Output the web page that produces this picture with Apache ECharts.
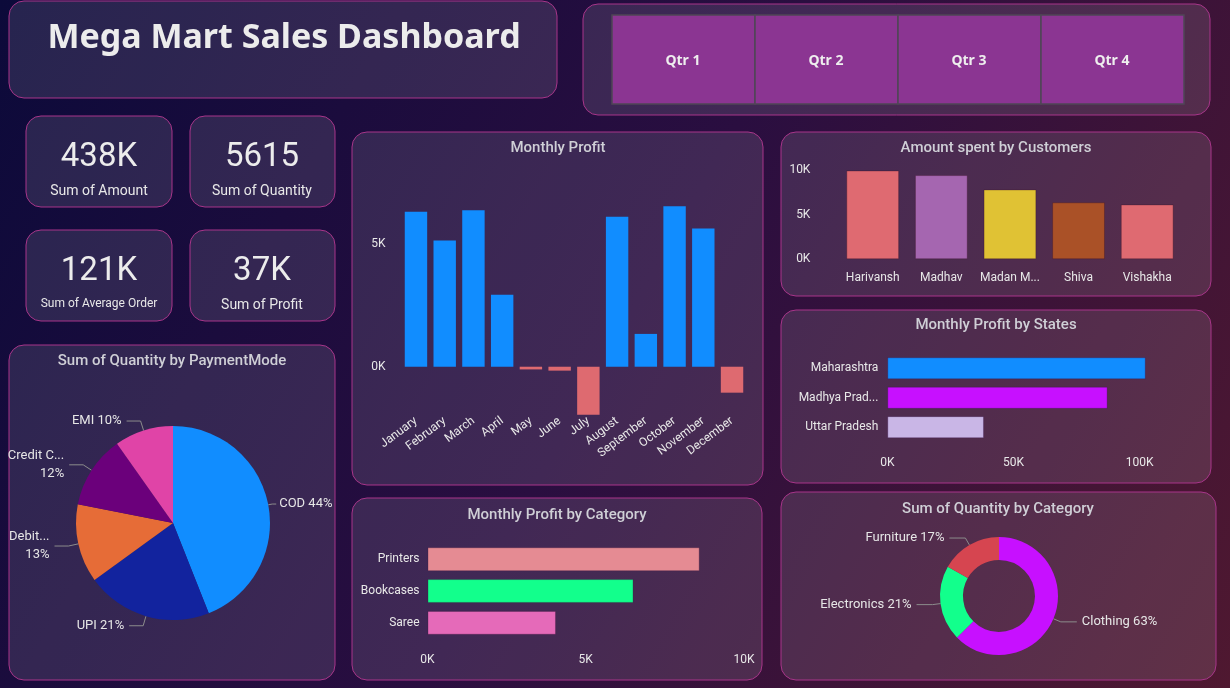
<!DOCTYPE html>
<html><head><meta charset="utf-8">
<script src="https://cdn.jsdelivr.net/npm/echarts@6/dist/echarts.min.js"></script>
<style>html,body{margin:0;padding:0;background:#1a0b3a;overflow:hidden}#c{width:1230px;height:688px;}</style>
</head><body><div id="c"></div>
<script>
// ---- data ----
const dashboardTitle = 'Mega Mart Sales Dashboard';
const quarters = ['Qtr 1', 'Qtr 2', 'Qtr 3', 'Qtr 4'];
const kpiValues = ['438K', '5615', '121K', '37K'];
const kpiLabels = ['Sum of Amount', 'Sum of Quantity', 'Sum of Average Order', 'Sum of Profit'];

const months = ['January','February','March','April','May','June','July','August','September','October','November','December'];
const monthlyProfit = [6330, 5150, 6390, 2940, -110, -160, -1960, 6120, 1340, 6550, 5640, -1060];

const customers = ['Harivansh', 'Madhav', 'Madan Mohan', 'Shiva', 'Vishakha'];
const customerAmount = [9950, 9430, 7830, 6380, 6150];

const states = ['Maharashtra', 'Madhya Pradesh', 'Uttar Pradesh'];
const stateProfit = [102400, 87300, 38300];

const profitCategories = ['Printers', 'Bookcases', 'Saree'];
const categoryProfit = [8600, 6510, 4060];

const paymentModes = ['COD', 'UPI', 'Debit Card', 'Credit Card', 'EMI'];
const paymentLabels = ['COD', 'UPI', 'Debit...', 'Credit C...', 'EMI'];
const paymentQty = [2470, 1180, 735, 680, 550];

const qtyCategories = ['Clothing', 'Electronics', 'Furniture'];
const qtyByCategory = [3516, 1160, 939];

// ---- styles ----
const FONT = 'Roboto, "Noto Sans", sans-serif';
const LABEL = '#e6e6e6';
const TITLE = '#cfcfd6';
const posColor = '#118DFF', negColor = '#DE6A70';
const customerColors = ['#DF6A71', '#A566B0', '#E0C234', '#AA5127', '#DF6A71'];
const stateColors = ['#118DFF', '#C710FF', '#C9B6E6'];
const catProfitColors = ['#E58B93', '#12FF8C', '#E56AB9'];
const paymentColors = ['#118DFF', '#12239E', '#E66C37', '#6B007B', '#E044A7'];
const qtyCatColors = ['#C710FF', '#12FF8C', '#D64550'];

function panel(x, y, w, h) {
  return { type: 'rect', shape: { x, y, width: w, height: h, r: 15 }, z: 1,
    style: { fill: 'rgba(255,255,255,0.11)', stroke: '#a8358a', lineWidth: 1 } };
}
function txt(text, x, y, font, fill) {
  return { type: 'text', z: 5, style: { text, x, y, font, fill: fill || LABEL,
    align: 'center', verticalAlign: 'middle', textAlign: 'center', textVerticalAlign: 'middle' } };
}
const kFmt = v => (v / 1000) + 'K';

const graphics = [
  { type: 'rect', z: 0, shape: { x: 0, y: 0, width: 1230, height: 688 },
    style: { fill: new echarts.graphic.LinearGradient(0, 0, 1, 1, [
      { offset: 0, color: '#0c0a3a' }, { offset: 0.5, color: '#2a0e40' }, { offset: 1, color: '#4f1830' }]) } },
  panel(9, 1, 548, 97),
  panel(583, 4, 627, 111),
  panel(26, 116, 146, 91), panel(190, 116, 145, 91),
  panel(26, 230, 146, 91), panel(190, 230, 145, 91),
  panel(9, 345, 326, 335),
  panel(352, 132, 411, 353),
  panel(781, 132, 430, 164),
  panel(781, 310, 430, 173),
  panel(352, 498, 410, 182),
  panel(781, 492, 435, 188),
  txt(dashboardTitle, 284, 38, 'bold 34px "Noto Sans", sans-serif', '#ececec'),
  txt('Monthly Profit', 558, 148, '500 15px ' + FONT, TITLE),
  txt('Amount spent by Customers', 996, 148, '500 15px ' + FONT, TITLE),
  txt('Monthly Profit by States', 996, 325, '500 15px ' + FONT, TITLE),
  txt('Sum of Quantity by PaymentMode', 172, 361, '500 15px ' + FONT, TITLE),
  txt('Monthly Profit by Category', 557, 515, '500 15px ' + FONT, TITLE),
  txt('Sum of Quantity by Category', 998, 509, '500 15px ' + FONT, TITLE)
];
quarters.forEach((q, i) => {
  graphics.push({ type: 'rect', z: 2, shape: { x: 612 + 143 * i, y: 15, width: 143, height: 89 },
    style: { fill: '#8B3592', stroke: '#4f4656', lineWidth: 1.5 } });
  graphics.push(txt(q, 683 + 143 * i, 61, 'bold 14px "Noto Sans", sans-serif', '#eeeeee'));
});
const kpiPos = [[99, 158, 191], [262, 158, 191], [99, 272, 304], [262, 272, 305]];
kpiValues.forEach((v, i) => {
  graphics.push(txt(v, kpiPos[i][0], kpiPos[i][1], '33px ' + FONT, '#ececec'));
  graphics.push(txt(kpiLabels[i], kpiPos[i][0], kpiPos[i][2], (i === 2 ? '12px ' : '14px ') + FONT, '#e8e8e8'));
});

const axisText = { color: LABEL, fontSize: 12, fontFamily: FONT };
const noLines = { axisLine: { show: false }, axisTick: { show: false }, splitLine: { show: false } };

const option = {
  animation: false,
  graphic: { elements: graphics },
  grid: [
    { left: 401.6, top: 195.3, width: 344.8, height: 220.4 },
    { left: 838.4, top: 170, width: 343.1, height: 89.3 },
    { left: 887.3, top: 353.6, width: 277.6, height: 88.3 },
    { left: 427.5, top: 543.3, width: 316.5, height: 95.4 }
  ],
  xAxis: [
    Object.assign({ gridIndex: 0, type: 'category', data: months,
      axisLabel: Object.assign({ rotate: 37, interval: 0, margin: 4 }, axisText) }, noLines),
    Object.assign({ gridIndex: 1, type: 'category', data: customers,
      axisLabel: Object.assign({ interval: 0, margin: 13,
        formatter: n => n.length > 10 ? n.slice(0, 7) + '...' : n }, axisText) }, noLines),
    Object.assign({ gridIndex: 2, type: 'value', min: 0, max: 110000, interval: 10000,
      axisLabel: Object.assign({ margin: 15, formatter: v => v % 50000 === 0 ? kFmt(v) : '' }, axisText) }, noLines),
    Object.assign({ gridIndex: 3, type: 'value', min: 0, max: 10000, interval: 5000,
      axisLabel: Object.assign({ margin: 15, formatter: kFmt }, axisText) }, noLines)
  ],
  yAxis: [
    Object.assign({ gridIndex: 0, type: 'value', min: -2000, max: 7000, interval: 1000,
      axisLabel: Object.assign({ margin: 16, formatter: v => (v === 0 || v === 5000) ? kFmt(v) : '' }, axisText) }, noLines),
    Object.assign({ gridIndex: 1, type: 'value', min: 0, max: 10000, interval: 5000,
      axisLabel: Object.assign({ margin: 28, formatter: kFmt }, axisText) }, noLines),
    Object.assign({ gridIndex: 2, type: 'category', data: states, inverse: true,
      axisLabel: Object.assign({ margin: 9, formatter: n => n.length > 13 ? n.slice(0, 11) + '...' : n }, axisText) }, noLines),
    Object.assign({ gridIndex: 3, type: 'category', data: profitCategories, inverse: true,
      axisLabel: Object.assign({ margin: 8 }, axisText) }, noLines)
  ],
  series: [
    { type: 'bar', xAxisIndex: 0, yAxisIndex: 0, data: monthlyProfit, barCategoryGap: '22%',
      itemStyle: { color: p => p.value < 0 ? negColor : posColor } },
    { type: 'bar', xAxisIndex: 1, yAxisIndex: 1, data: customerAmount, barCategoryGap: '23%',
      itemStyle: { color: p => customerColors[p.dataIndex], borderColor: 'rgba(60,20,40,0.35)', borderWidth: 1 } },
    { type: 'bar', xAxisIndex: 2, yAxisIndex: 2, data: stateProfit, barCategoryGap: '25%',
      itemStyle: { color: p => stateColors[p.dataIndex], borderColor: 'rgba(60,20,80,0.3)', borderWidth: 1 } },
    { type: 'bar', xAxisIndex: 3, yAxisIndex: 3, data: categoryProfit, barCategoryGap: '25%',
      itemStyle: { color: p => catProfitColors[p.dataIndex], borderColor: 'rgba(60,20,60,0.3)', borderWidth: 1 } },
    { type: 'pie', center: [173, 523], radius: 97, startAngle: 90, clockwise: true,
      data: paymentModes.map((n, i) => i === 0
        ? { name: n, value: paymentQty[i], labelLine: { length: 4, length2: 4 }, label: { distanceToLabelLine: 3 } }
        : { name: n, value: paymentQty[i] }),
      itemStyle: { color: p => paymentColors[p.dataIndex] },
      label: { color: LABEL, fontSize: 13, fontFamily: FONT, lineHeight: 18, overflow: 'none', bleedMargin: 0,
        formatter: p => { const l = paymentLabels[p.dataIndex]; const pct = Math.round(p.percent) + '%';
          return l.endsWith('...') ? l + '\n' + pct : l + ' ' + pct; } },
      labelLine: { length: 10, length2: 14, lineStyle: { color: '#8c8c8c' } },
      emphasis: { disabled: true } },
    { type: 'pie', center: [999, 596], radius: [36, 59], startAngle: 90, clockwise: true,
      data: qtyCategories.map((n, i) => ({ name: n, value: qtyByCategory[i] })),
      itemStyle: { color: p => qtyCatColors[p.dataIndex] },
      label: { color: LABEL, fontSize: 13, fontFamily: FONT, overflow: 'none',
        formatter: p => p.name + ' ' + Math.round(p.percent) + '%' },
      labelLine: { length: 8, length2: 16, lineStyle: { color: '#8c8c8c' } },
      emphasis: { disabled: true } }
  ]
};
const chart = echarts.init(document.getElementById('c'));
chart.setOption(option);
</script></body></html>
